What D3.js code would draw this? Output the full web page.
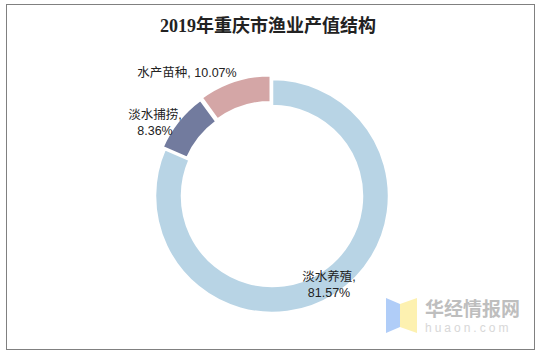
<!DOCTYPE html>
<meta charset="utf-8">
<head>
    <style>
        body { margin: 0; background: #fff; }
        .lbl { font-family: Arial, "Liberation Sans", "Noto Sans CJK SC", sans-serif; font-size: 12.5px; fill: #222; }
    </style>
    <script src="https://d3js.org/d3.v7.min.js"></script>
</head>
<body>
<script>

    // data
    var categories = ["淡水养殖", "淡水捕捞", "水产苗种"];
    var shares = [81.57, 8.36, 10.07];
    var colors = ["#b8d4e5", "#727b9e", "#d4a6a6"];
    var explode = [0, 3, 4];   // small slices pulled out a bit

    var width = 541, height = 354;
    var cx = 272, cy = 196, outerR = 117, innerR = 90;

    var svg = d3.select("body").append("svg")
        .attr("width", width)
        .attr("height", height);

    svg.append("rect")
        .attr("x", 6.5).attr("y", 4.5)
        .attr("width", 528).attr("height", 345)
        .attr("fill", "#fff")
        .attr("stroke", "#808080");

    svg.append("text")
        .attr("x", 268).attr("y", 32)
        .attr("text-anchor", "middle")
        .style("font-family", "'Liberation Serif', 'Noto Sans CJK SC', serif")
        .style("font-weight", "bold")
        .style("font-size", "18px")
        .style("fill", "#222")
        .text("2019年重庆市渔业产值结构");

    var pie = d3.pie().sort(null).value(function (d) { return d; });
    var arcs = pie(shares);
    var arc = d3.arc().innerRadius(innerR).outerRadius(outerR);

    var g = svg.append("g").attr("transform", "translate(" + cx + "," + cy + ")");

    g.selectAll("path")
        .data(arcs)
        .enter()
        .append("path")
        .attr("d", arc)
        .attr("transform", function (d, i) {
            var a = (d.startAngle + d.endAngle) / 2;
            return "translate(" + (Math.sin(a) * explode[i]) + "," + (-Math.cos(a) * explode[i]) + ")";
        })
        .style("fill", function (d, i) { return colors[i]; })
        .style("stroke", "#fff")
        .style("stroke-width", 2.5);

    // labels near each slice
    var labelPos = [
        {x: 329, y: 281, anchor: "middle", lines: [categories[0] + ",", shares[0].toFixed(2) + "%"]},
        {x: 155, y: 119, anchor: "middle", lines: [categories[1] + ",", shares[1].toFixed(2) + "%"]},
        {x: 187, y: 77, anchor: "middle", lines: [categories[2] + ", " + shares[2].toFixed(2) + "%"]}
    ];

    labelPos.forEach(function (p) {
        var t = svg.append("text")
            .attr("class", "lbl")
            .attr("text-anchor", p.anchor);
        p.lines.forEach(function (s, k) {
            t.append("tspan")
                .attr("x", p.x)
                .attr("y", p.y + k * 16)
                .text(s);
        });
    });

    // watermark
    var wm = svg.append("g").attr("opacity", 0.9);
    wm.append("path")
        .attr("d", "M386,298 L400,304 L400,327 L386,333 Z")
        .attr("fill", "#a8c8f8");
    wm.append("path")
        .attr("d", "M400,304 L417,298 L417,333 L400,327 Z")
        .attr("fill", "#fdf0a8");
    wm.append("text")
        .attr("x", 425).attr("y", 316)
        .style("font-family", "'Noto Sans CJK SC', sans-serif")
        .style("font-weight", "bold")
        .style("font-size", "19px")
        .style("fill", "#b8b8b8")
        .text("华经情报网");
    wm.append("text")
        .attr("x", 425).attr("y", 332)
        .style("font-family", "Arial, 'Liberation Sans', sans-serif")
        .style("font-size", "12px")
        .style("letter-spacing", "3px")
        .style("fill", "#d4d4d4")
        .text("huaon.com");

</script>
</body>
</html>
